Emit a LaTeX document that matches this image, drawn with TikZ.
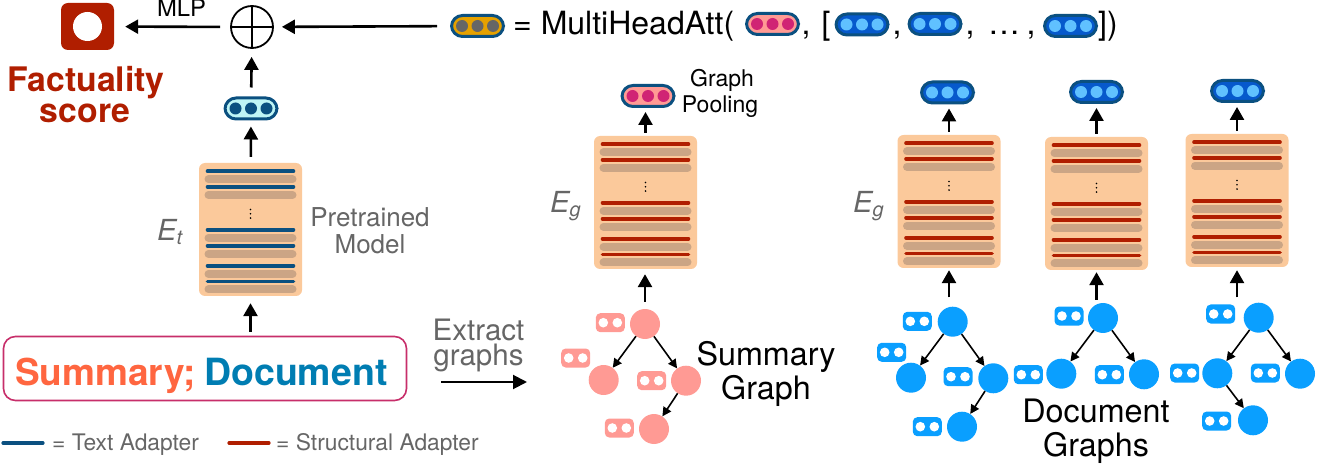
\documentclass[tikz,border=0pt]{standalone}
\usepackage{fontspec}
\setmainfont{TeX Gyre Heros}
\usetikzlibrary{arrows.meta}
\definecolor{peach}{HTML}{FBC99B}
\definecolor{tan}{HTML}{CBA585}
\definecolor{adaptred}{HTML}{B01E00}
\definecolor{adaptblue}{HTML}{0B5080}
\definecolor{sumcol}{HTML}{FF9A94}
\definecolor{doccol}{HTML}{0A9FFF}
\definecolor{graytext}{HTML}{666666}
\newcommand{\fsize}[1]{\fontsize{#1}{#1}\selectfont}
\newcommand{\encgen}[4]{
  \node[encbox](enc#1) at (#2,#3){};
  \begin{scope}[shift={(enc#1.north)}]
    \foreach \off in {8.5,24,67,83,103,118.7}{
      \draw[line width=8pt,tan,line cap=round] (-42,\off+8) -- (42,\off+8);
      \draw[line width=3.6pt,#4,line cap=round] (-43,\off) -- (43,\off);
    }
    \foreach \off in {46.7,51,55.3}
      \fill (0,\off) circle (0.9);
  \end{scope}
}
\newcommand{\pillgen}[6]{
  \node[pillbox,draw=#6,fill=#4](#1) at (#2,#3){};
  \foreach \off in {-15.5,0,15.5}
    \fill[#5] (#1) ++(\off,0) circle (6);
}
\tikzset{
  encbox/.style={fill=peach,rounded corners=6pt,minimum width=103pt,minimum height=133pt,inner sep=0},
  pillbox/.style={line width=3pt,rounded corners=11pt,minimum width=52pt,minimum height=21pt,inner sep=0},
  arrow/.style={line width=2.6pt,-{Triangle[length=13pt,width=14pt]}},
  edge/.style={line width=1.6pt,-{Triangle[length=9pt,width=9pt]}},
  gnode/.style={circle,fill=#1,minimum size=30pt,inner sep=0},
  feat/.style={fill=#1,rounded corners=4.5pt,minimum width=29pt,minimum height=19pt,inner sep=0},
  txt/.style={inner sep=0,anchor=base},
  title/.style={txt,font=\fsize{32.3}},
  gray/.style={txt,text=graytext},
}
\begin{document}
\begin{tikzpicture}[x=1pt,y=-1pt]
  \useasboundingbox (0,0) rectangle (1318,465);
  % score side
  \node[fill=adaptred,rounded corners=7pt,minimum width=53pt,minimum height=47pt,inner sep=0](score) at (87.5,26.5){};
  \node[circle,fill=white,minimum size=29pt,inner sep=0](hole) at (score){};
  \node[txt,font=\fsize{33.8}\bfseries,text=adaptred](factuality) at (86,92){Factuality};
  \node[txt,font=\fsize{33.8}\bfseries,text=adaptred](scorelabel) at (85,123){score};
  \node[circle,draw,line width=1.8pt,minimum size=42pt,inner sep=0](plus) at (252,27){};
  \draw[line width=1.4pt] (plus.north) -- (plus.south);
  \draw[line width=1.4pt] (plus.west) -- (plus.east);
  \node[txt,font=\fsize{23.8}](mlp) at (181.5,17){MLP};
  % equation row
  \pillgen{query}{477.5}{26}{orange!60!yellow!90!black}{graytext}{adaptblue}
  \node[txt,anchor=base west,font=\fsize{32}](eqn) at (513,35){= MultiHeadAtt(};
  \pillgen{eqsum}{772.5}{24}{sumcol}{magenta!80!red!85!black}{adaptblue}
  \node[txt,font=\fsize{32}](comma0) at (806,35){,};
  \node[txt,font=\fsize{32}](bropen) at (826,35){[};
  \pillgen{eqdoca}{862}{24.5}{blue!30!doccol!80!black}{doccol!65!white}{adaptblue}
  \node[txt,font=\fsize{32}](comma1) at (897,35){,};
  \pillgen{eqdocb}{935}{24}{blue!30!doccol!80!black}{doccol!65!white}{adaptblue}
  \node[txt,font=\fsize{32}](comma2) at (970,35){,};
  \node[txt,font=\fsize{32}](eqdots) at (1004,35){…};
  \node[txt,font=\fsize{32}](comma3) at (1031,35){,};
  \pillgen{eqdocc}{1070.5}{26}{blue!30!doccol!80!black}{doccol!65!white}{adaptblue}
  \node[txt,font=\fsize{32}](brclose) at (1108,35){])};
  % text encoder
  \pillgen{textvec}{251}{108.5}{teal!30!cyan!25!white}{adaptblue}{adaptblue}
  \encgen{t}{250.5}{229.5}{adaptblue}
  \node[gray,anchor=base west,font=\fsize{29}\itshape](et) at (157,241){E\raisebox{-4pt}{\fsize{20}t}};
  \node[gray,font=\fsize{26}](pretrained) at (370,227){Pretrained};
  \node[gray,font=\fsize{26}](model) at (370,254){Model};
  \node[draw=magenta!70!red!80!black,line width=1.6pt,rounded corners=12pt,minimum width=403pt,minimum height=64pt,inner sep=0](input) at (205,368.5){};
  \node[txt,anchor=base west,font=\fsize{37}\bfseries,text=red!60!orange!75!white](sumtext) at (15,385){Summary;};
  \node[txt,anchor=base west,font=\fsize{37.5}\bfseries,text=blue!30!cyan!70!black](doctext) at (204,385){Document};
  % legend
  \coordinate(lega) at (3,443);
  \coordinate(legb) at (43,443);
  \coordinate(legc) at (229,443);
  \coordinate(legd) at (269,443);
  \draw[line width=3.2pt,adaptblue,line cap=round] (lega) -- (legb);
  \draw[line width=3.2pt,adaptred,line cap=round] (legc) -- (legd);
  \node[gray,anchor=base west,font=\fsize{22.8}](legtext) at (52,450){= Text Adapter};
  \node[gray,anchor=base west,font=\fsize{22.8}](legstruct) at (276,450){= Structural Adapter};
  % extract
  \node[gray,font=\fsize{29.5}](extract) at (478.5,340){Extract};
  \node[gray,font=\fsize{29.5}](extractb) at (478.5,365){graphs};
  \coordinate(exta) at (441,382);
  \coordinate(extb) at (527,382);
  \draw[line width=2pt,-{Triangle[length=14pt,width=14pt]}] (exta) -- (extb);
  % summary side
  \pillgen{sumvec}{648}{96}{sumcol}{magenta!80!red!85!black}{adaptblue}
  \encgen{s}{645.5}{202.5}{adaptred}
  \node[txt,font=\fsize{23}](graphtxt) at (722,87){Graph};
  \node[txt,font=\fsize{23}](poolingtxt) at (720,113){Pooling};
  \node[gray,anchor=base west,font=\fsize{29}\itshape](es) at (550,213){E\raisebox{-4pt}{\fsize{20}g}};
  \foreach \nm/\px/\py in {a/645/324,b/603.7/380,c/686/380.7,d/654/429}
    \node[gnode=sumcol](s\nm) at (\px,\py){};
  \foreach \nm/\px/\py in {a/610.3/322.7,b/575.7/358,c/651.7/380.7,d/619.3/428}{
    \node[feat=sumcol](sf\nm) at (\px,\py){};
    \fill[white] (sf\nm) ++(-7,0) circle (4.8) (sf\nm) ++(7,0) circle (4.8);
  }
  \draw[edge] (sa) -- (sb);
  \draw[edge] (sa) -- (sc);
  \draw[edge] (sc) -- (sd);
  \node[title](sumgraph) at (766,365){Summary};
  \node[title](sumgraphb) at (766,399){Graph};
  % document side
  \pillgen{docveca}{947.5}{92.5}{blue!30!doccol!80!black}{doccol!65!white}{adaptblue}
  \pillgen{docvecb}{1096.5}{92}{blue!30!doccol!80!black}{doccol!65!white}{adaptblue}
  \pillgen{docvecc}{1237.5}{91}{blue!30!doccol!80!black}{doccol!65!white}{adaptblue}
  \encgen{a}{949}{201.5}{adaptred}
  \encgen{b}{1096.5}{203.5}{adaptred}
  \encgen{c}{1237}{200.5}{adaptred}
  \node[gray,anchor=base west,font=\fsize{29}\itshape](eg) at (853,213){E\raisebox{-4pt}{\fsize{20}g}};
  \foreach \nm/\px/\py in {aa/952.7/321.7,ab/911/377.7,ac/993.3/378.3,ad/962/426.7,
    ba/1103/318,bb/1061.3/373.7,bc/1144/374.3,
    ca/1258.7/317.7,cb/1217.3/373.3,cc/1300/373.7,cd/1253/420.3}
    \node[gnode=doccol](d\nm) at (\px,\py){};
  \foreach \nm/\px/\py in {aa/917.3/321.3,ab/891.7/352.3,ac/958/376.7,ad/927.3/426.7,
    ba/1069/316,bb/1028.3/374.7,bc/1109.3/374.7,
    ca/1220.7/314,cb/1184.7/373,cc/1265.3/373,cd/1216.7/421}{
    \node[feat=doccol](df\nm) at (\px,\py){};
    \fill[white] (df\nm) ++(-7,0) circle (4.8) (df\nm) ++(7,0) circle (4.8);
  }
  \draw[edge] (daa) -- (dab);
  \draw[edge] (daa) -- (dac);
  \draw[edge] (dac) -- (dad);
  \draw[edge] (dba) -- (dbb);
  \draw[edge] (dba) -- (dbc);
  \draw[edge] (dca) -- (dcb);
  \draw[edge] (dca) -- (dcc);
  \draw[edge] (dcb) -- (dcd);
  \node[title](docgraph) at (1096,422.7){Document};
  \node[title](docgraphb) at (1096,456.7){Graphs};
  % connectors
  \draw[arrow,shorten >=11pt,shorten <=10pt] (plus) -- (score);
  \draw[arrow,shorten >=8pt,shorten <=13pt] (query) -- (plus);
  \draw[arrow,shorten >=8pt,shorten <=9pt] (textvec) -- (plus);
  \draw[arrow,shorten >=6pt,shorten <=6pt] (enct) -- (textvec);
  \draw[arrow,shorten >=7pt,shorten <=4pt] (input.north -| enct) -- (enct);
  \draw[arrow,shorten >=4pt,shorten <=3pt] (encs.north) -- (encs.north |- sumvec.south);
  \draw[arrow,shorten >=4pt,shorten <=3pt] (enca.north) -- (enca.north |- docveca.south);
  \draw[arrow,shorten >=4pt,shorten <=3pt] (encb.north) -- (encb.north |- docvecb.south);
  \draw[arrow,shorten >=4pt,shorten <=3pt] (encc.north) -- (encc.north |- docvecc.south);
  \draw[arrow,shorten >=5pt,shorten <=7pt] (sa.north) -- (sa.north |- encs.south);
  \draw[arrow,shorten >=2pt,shorten <=9pt] (daa.north -| enca) -- (enca);
  \draw[arrow,shorten >=2pt,shorten <=3pt] (dba.north -| encb) -- (encb);
  \draw[arrow,shorten >=3pt,shorten <=5pt] (dca.north -| encc) -- (encc);
\end{tikzpicture}
\end{document}
